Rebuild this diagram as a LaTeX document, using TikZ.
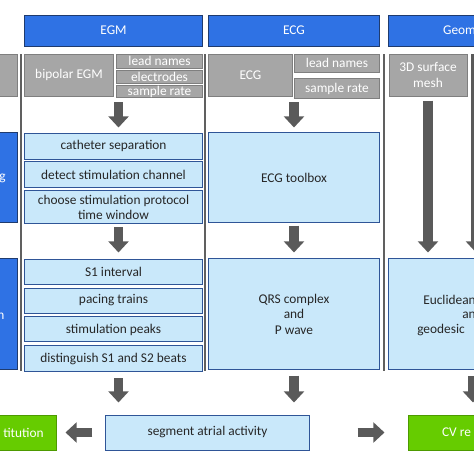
\documentclass[tikz,border=0pt]{standalone}
\usepackage{fontspec}
\setmainfont{Carlito}
\usepackage{tikz}
\usetikzlibrary{arrows.meta,calc,positioning}
\newcommand{\apfont}{\fontsize{9.5}{11}\selectfont}
\definecolor{APHead}{HTML}{2F72E4}
\definecolor{APNavy}{HTML}{1F3B6E}
\definecolor{APGray}{HTML}{A6A6A6}
\definecolor{APGrayLine}{HTML}{7F7F7F}
\definecolor{APLight}{HTML}{C9E8FA}
\definecolor{APLightLine}{HTML}{2F5597}
\definecolor{APGreen}{HTML}{66CC00}
\definecolor{APGreenLine}{HTML}{4D9A00}
\definecolor{APArrow}{HTML}{5A5A5A}
\definecolor{APSep}{HTML}{606060}
\tikzset{
  apHead/.style={
    rectangle, draw=APNavy, fill=APHead, text=white, line width=0.7pt,
    align=center, inner sep=0pt, minimum height=0.775cm, font=\apfont
  },
  apInput/.style={
    rectangle, draw=APGrayLine, fill=APGray, text=white, line width=0.7pt,
    align=center, inner sep=0pt, minimum height=1.05cm, font=\apfont
  },
  apMeta/.style={
    rectangle, draw=APGrayLine, fill=APGray, text=white, line width=0.7pt,
    align=center, inner sep=0pt, minimum height=0.3cm, font=\apfont
  },
  apStep/.style={
    rectangle, draw=APLightLine, fill=APLight, text=black!85, line width=0.7pt,
    align=center, inner sep=0pt, font=\apfont
  },
  apResult/.style={
    rectangle, draw=APGreenLine, fill=APGreen, text=white, line width=0.7pt,
    align=center, inner sep=0pt, minimum height=0.875cm, font=\apfont
  },
  apWhite/.style={inner sep=0pt, text=white, font=\apfont},
  apDark/.style={inner sep=0pt, text=black!85, font=\apfont},
  apArrow/.style={-{Triangle[length=0.28cm,width=0.5cm]}, draw=APArrow, line width=0.23cm},
  apSep/.style={draw=APSep, line width=1.4pt}
}
\begin{document}
\begin{tikzpicture}[x=0.025cm, y=-0.025cm]
  \useasboundingbox (0,0) rectangle (474,474);
  \clip (0,0) rectangle (474,474);

  % column separators
  \foreach \x in {21,205,384}
    \draw[apSep] (\x,54) -- (\x,371);

  % left column, cut off
  \node[apInput, minimum width=2.35cm] (lIn) at (-30,75) {};
  \node[apHead, minimum width=4.175cm, minimum height=2.225cm] (lStepA) at (-66.5,177.5) {};
  \node[apHead, minimum width=4.175cm, minimum height=2.75cm] (lStepB) at (-66.5,314) {};
  \node[apWhite, anchor=west] (lTxtA) at (-1,178) {g};
  \node[apWhite, anchor=west] (lTxtB) at (-3,316) {n};

  % EGM column
  \node[apHead, minimum width=4.425cm] (egmHead) at (113.5,30.5) {EGM};
  \node[apInput, minimum width=2.2cm] (egmIn) at (69,75) {bipolar EGM};
  \node[apMeta, minimum width=2.125cm, minimum height=0.35cm] (egmLead) at (159.5,61) {lead names};
  \node[apMeta, minimum width=2.125cm, below=0.05cm of egmLead] (egmElec) {electrodes};
  \node[apMeta, minimum width=2.125cm, below=0.05cm of egmElec] (egmRate) {sample rate};
  \node[apStep, minimum width=4.425cm, minimum height=0.65cm] (egmCath) at (113.5,146) {catheter separation};
  \node[apStep, minimum width=4.425cm, minimum height=0.625cm, below=0.05cm of egmCath] (egmChan) {detect stimulation channel};
  \node[apStep, minimum width=4.425cm, minimum height=0.825cm, below=0.075cm of egmChan] (egmWin) {choose stimulation protocol\\time window};
  \node[apStep, minimum width=4.425cm, minimum height=0.625cm] (egmS1) at (113.5,271.5) {S1 interval};
  \node[apStep, minimum width=4.425cm, minimum height=0.625cm, below=0.075cm of egmS1] (egmPace) {pacing trains};
  \node[apStep, minimum width=4.425cm, minimum height=0.625cm, below=0.075cm of egmPace] (egmPeak) {stimulation peaks};
  \node[apStep, minimum width=4.425cm, minimum height=0.65cm, below=0.075cm of egmPeak] (egmBeat) {distinguish S1 and S2 beats};

  % ECG column
  \node[apHead, minimum width=4.25cm] (ecgHead) at (294,30.5) {ECG};
  \node[apInput, minimum width=2.075cm] (ecgIn) at (250.5,75) {ECG};
  \node[apMeta, minimum width=2.1cm, minimum height=0.45cm] (ecgLead) at (337,63) {lead names};
  \node[apMeta, minimum width=2.1cm, minimum height=0.475cm, below=0.15cm of ecgLead] (ecgRate) {sample rate};
  \node[apStep, minimum width=4.25cm, minimum height=2.225cm] (ecgTool) at (294,177.5) {ECG toolbox};
  \node[apStep, minimum width=4.25cm, minimum height=2.75cm] (ecgQrs) at (294,314) {QRS complex\\and\\P wave};

  % geometry column, cut off
  \node[apHead, minimum width=3.525cm] (geoHead) at (459.5,30.5) {Geom};
  \node[apInput, minimum width=1.95cm] (geoMesh) at (428,75) {3D surface\\mesh};
  \node[apStep, minimum width=4.2cm, minimum height=2.75cm] (geoEucl) at (473,314) {};
  \node[apDark, anchor=west] (geoTxtA) at (423,300) {Euclidean};
  \node[apDark, anchor=west] (geoTxtB) at (462,315) {an};
  \node[apDark, anchor=west] (geoTxtC) at (417,330) {geodesic};
  \coordinate (geoExtra) at (476,54);

  % bottom row
  \node[apStep, minimum width=5.075cm, minimum height=0.875cm] (segAct) at (207.5,432.5) {segment atrial activity};
  \node[apResult, minimum width=1.625cm] (restL) at (23.5,432.5) {titution};
  \node[apResult, minimum width=2.375cm] (cvRest) at (456.5,432.5) {CV re};

  % arrows
  \draw[apArrow, shorten <=0.1cm, shorten >=0.125cm] ([xshift=0.125cm]egmCath.north |- egmRate.south) -- ([xshift=0.125cm]egmCath.north);
  \draw[apArrow, shorten <=0.075cm, shorten >=0.15cm] ([xshift=0.125cm]egmWin.south) -- ([xshift=0.125cm]egmS1.north);
  \draw[apArrow, shorten <=0.15cm, shorten >=0.3cm] ([xshift=0.125cm]egmBeat.south) -- ([xshift=0.125cm]egmBeat.south |- segAct.north);
  \draw[apArrow, shorten <=0.1cm, shorten >=0.125cm] (ecgTool.north |- ecgRate.south) -- (ecgTool.north);
  \draw[apArrow, shorten <=0.075cm, shorten >=0.15cm] (ecgTool.south) -- (ecgQrs.north);
  \draw[apArrow, shorten <=0.15cm, shorten >=0.3cm] (ecgQrs.south) -- (ecgQrs.south |- segAct.north);
  \draw[apArrow, shorten <=0.1cm, shorten >=0.15cm] (geoMesh.south) -- (geoMesh.south |- geoEucl.north);
  \draw[apArrow, shorten >=0.15cm] (geoExtra) -- (geoExtra |- geoEucl.north);
  \draw[apArrow, shorten <=0.15cm, shorten >=0.3cm] (geoEucl.south) -- (geoEucl.south |- cvRest.north);
  \draw[apArrow, shorten <=0.325cm, shorten >=0.225cm] (segAct.west) -- (restL.east);
  \draw[apArrow, shorten <=1.2cm, shorten >=0.6cm] (segAct.east) -- (cvRest.west);
\end{tikzpicture}
\end{document}
